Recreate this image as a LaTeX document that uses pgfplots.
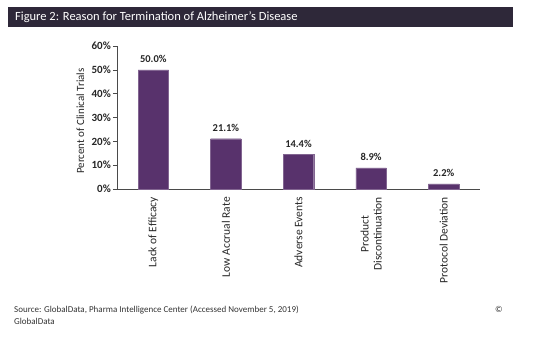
\documentclass[border=0pt]{standalone}
\usepackage{pgfplots}
\pgfplotsset{compat=1.18}
\usepackage{fontspec}
\setmainfont{Carlito}
\definecolor{barc}{HTML}{58326C}
\definecolor{titlebg}{HTML}{2E2839}
\definecolor{axc}{HTML}{4A4A4A}
\begin{document}
\begin{tikzpicture}[x=1pt,y=1pt]
\useasboundingbox (0,0) rectangle (547,351);
\fill[titlebg] (8,324) rectangle (513,344);
\node[anchor=west,text=white,font=\fontsize{12.5}{14}\selectfont,inner sep=0] at (15,334) {Figure 2: Reason for Termination of Alzheimer’s Disease};
\begin{axis}[
  at={(117pt,162pt)}, anchor=south west,
  scale only axis, width=363pt, height=143pt,
  xmin=-0.5, xmax=4.5, ymin=0, ymax=60,
  axis lines*=left,
  axis line style={axc},
  every tick/.style={axc},
  ytick={0,10,...,60},
  yticklabel={\pgfmathprintnumber{\tick}\%},
  /pgf/number format/assume math mode=true,
  yticklabel style={font=\fontsize{11}{12}\selectfont\bfseries, text=black!85, inner sep=2pt},
  tick align=outside, major tick length=4pt,
  xtick={0,1,2,3,4},
  xticklabels={Lack of Efficacy,Low Accrual Rate,Adverse Events,Product\\Discontinuation,Protocol Deviation},
  xticklabel style={rotate=90, anchor=east, align=center, font=\fontsize{11.5}{13}\selectfont, text=black!85, inner sep=1pt, xshift=-3pt},
  x tick style={draw=none},
  extra x ticks={-0.5,0.5,1.5,2.5,3.5,4.5},
  extra x tick labels={},
  extra x tick style={tick style={draw=axc}, major tick length=4pt},
  ylabel={Percent of Clinical Trials},
  every axis y label/.style={at={(ticklabel cs:0.475)}, rotate=90, anchor=south, yshift=2pt, font=\fontsize{11}{12}\selectfont, text=black!85},
  bar width=0.42,
  nodes near coords={\pgfmathprintnumber[fixed,fixed zerofill,precision=1]{\pgfplotspointmeta}\%},
  nodes near coords style={font=\fontsize{10.5}{12}\selectfont\bfseries, text=black!85, yshift=4pt},
  clip=false,
]
\addplot[ybar, fill=barc, draw=barc!75!white] coordinates {(0,50.0) (1,21.1) (2,14.4) (3,8.9) (4,2.2)};
\end{axis}
\node[anchor=base west,font=\fontsize{9}{10}\selectfont,text=black!80,inner sep=0] at (14,38) {Source: GlobalData, Pharma Intelligence Center (Accessed November 5, 2019)};
\node[anchor=base west,font=\fontsize{9}{10}\selectfont,text=black!80,inner sep=0] at (14,26) {GlobalData};
\node[anchor=base west,font=\fontsize{9}{10}\selectfont,text=black!80,inner sep=0] at (495,38) {©};
\end{tikzpicture}
\end{document}
